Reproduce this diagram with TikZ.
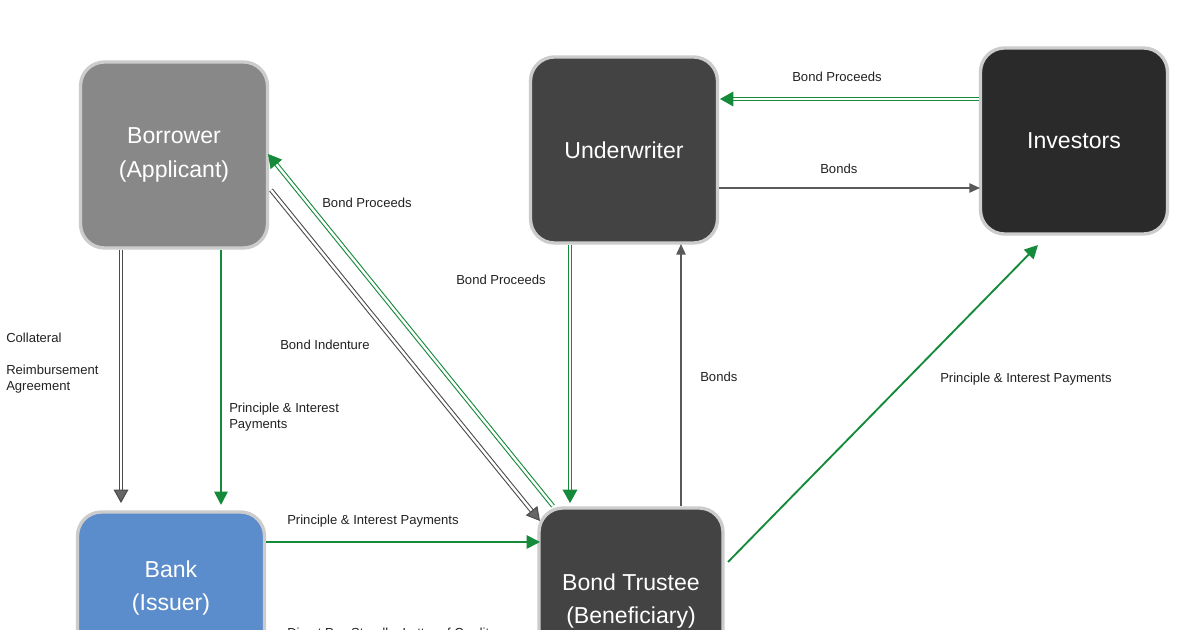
\documentclass[tikz,border=0pt]{standalone}
\usepackage{fontspec}
\setmainfont{Liberation Sans}
\usetikzlibrary{arrows.meta}
\definecolor{gbox}{HTML}{888888}
\definecolor{dbox}{HTML}{434343}
\definecolor{ibox}{HTML}{2A2A2A}
\definecolor{bbox}{HTML}{5B8CCB}
\definecolor{grn}{HTML}{148A3A}
\definecolor{lbl}{HTML}{222222}
\tikzset{
 box/.style={draw=white!80!black, line width=2.5pt, rounded corners=18pt, text=white, align=center,
   font=\fontsize{17.3}{25}\selectfont, minimum width=187*0.75pt, minimum height=186*0.75pt, inner sep=0pt},
 lab/.style={font=\fontsize{9.8}{11.8}\selectfont, text=lbl, align=left, inner sep=0pt},
 gtip/.style={-{Triangle[length=10pt,width=10pt]}},
 ga/.style={grn, line width=1.4pt, gtip},
 gd/.style={draw=grn, double=white, double distance=1.8pt, line width=0.8pt, -{Triangle[length=10pt,width=11pt,fill=grn]}},
 kd/.style={draw=black!70, double=white, double distance=1.8pt, line width=0.8pt, -{Triangle[length=10pt,width=11pt,fill=black!60]}},
 ka/.style={black!65, line width=1.2pt, -{Triangle[length=8pt,width=7pt]}},
}
\begin{document}
\begin{tikzpicture}[x=0.75pt,y=-0.75pt]
\clip (0,0) rectangle (1200,630);
\useasboundingbox (0,0) rectangle (1200,630);
\fill[white] (0,0) rectangle (1200,630);
\node[box, fill=gbox] (bor) at (174,155) {Borrower\\(Applicant)};
\node[box, fill=dbox] (und) at (624,150) {Underwriter};
\node[box, fill=ibox] (inv) at (1074,141) {Investors};
\node[box, fill=bbox, minimum height=152*0.75pt] (bank) at (171,588) {Bank\\(Issuer)};
\node[box, fill=dbox, minimum width=184*0.75pt] (tru) at (631,601) {Bond Trustee\\(Beneficiary)};
% connectors
\draw[kd] (bor.south -| 121,0) -- (121,503);
\draw[ga] (bor.south -| 221,0) -- (221,505);
\draw[ga] (bank.east |- 0,542) -- (540,542);
\coordinate (c1) at (553,506);
\coordinate (c2) at (268,154);
\draw[gd] (c1) -- (c2);
\coordinate (c3) at (271,190);
\coordinate (c4) at (540,521);
\draw[kd] (c3) -- (c4);
\draw[gd] (und.south -| 570,0) -- (570,503);
\draw[ka] (tru.north -| 681,0) -- (681,244);
\draw[gd] (inv.west |- 0,99) -- (720,99);
\draw[ka] (und.east |- 0,188) -- (980,188);
\coordinate (c5) at (728,562);
\coordinate (c6) at (1038,245);
\draw[ga] (c5) -- (c6);
% labels
\node[lab, anchor=west] (l1) at (6,338) {Collateral};
\node[lab, anchor=north west] (l2) at (6,365) {Reimbursement\\Agreement};
\node[lab, anchor=north west] (l3) at (229,403) {Principle \& Interest\\Payments};
\node[lab, anchor=west] (l4) at (287,521) {Principle \& Interest Payments};
\node[lab, anchor=west] (l5) at (287,634) {Direct Pay Standby Letter of Credit};
\node[lab, anchor=west] (l6) at (322,203) {Bond Proceeds};
\node[lab, anchor=west] (l7) at (280,345) {Bond Indenture};
\node[lab, anchor=west] (l8) at (456,280) {Bond Proceeds};
\node[lab, anchor=west] (l9) at (700,377) {Bonds};
\node[lab, anchor=west] (l10) at (792,77) {Bond Proceeds};
\node[lab, anchor=west] (l11) at (820,169) {Bonds};
\node[lab, anchor=west] (l12) at (940,379) {Principle \& Interest Payments};
\end{tikzpicture}
\end{document}
